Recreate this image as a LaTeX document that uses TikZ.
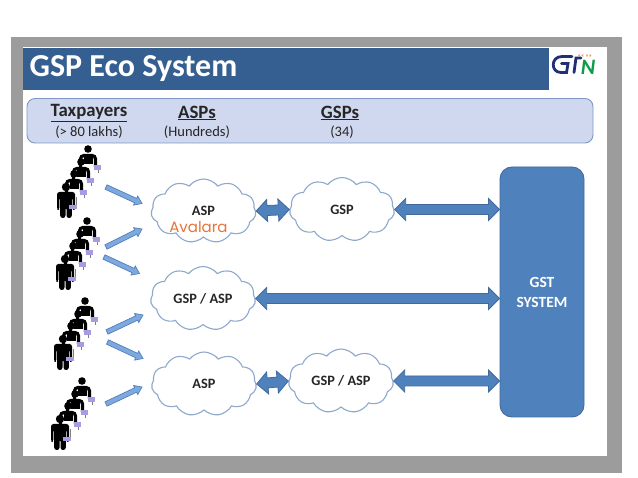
\documentclass[tikz,border=0pt]{standalone}
\usepackage{fontspec}
\setmainfont{Carlito}
\newfontfamily\logofont{Poppins}
\usetikzlibrary{shapes.symbols,calc}
\definecolor{framegray}{HTML}{9C9C9C}
\definecolor{titleblue}{HTML}{365F91}
\definecolor{bandfill}{HTML}{CFD8EE}
\definecolor{bandedge}{HTML}{7F98C6}
\definecolor{boxblue}{HTML}{4F81BD}
\definecolor{boxedge}{HTML}{41699C}
\definecolor{lightarrow}{HTML}{7FA8DE}
\definecolor{lightedge}{HTML}{4F81BD}
\definecolor{cloudedge}{HTML}{8FA9CC}
\definecolor{textdark}{HTML}{262626}
\definecolor{caselav}{HTML}{A99BE0}
\definecolor{avaorange}{HTML}{E8743B}
\definecolor{logonavy}{HTML}{1F2F78}
\definecolor{logogreen}{HTML}{0E9A48}
\tikzset{
  gspcloud/.style={cloud, cloud puffs=11, cloud puff arc=105, cloud ignores aspect,
    draw=cloudedge, line width=1.1pt, fill=white, inner sep=0pt,
    minimum width=105pt, minimum height=64pt, text=textdark,
    font=\bfseries\fontsize{14.3}{16}\selectfont},
  headtext/.style={text=textdark, font=\bfseries\fontsize{18.8}{20}\selectfont, inner sep=0pt},
  subtext/.style={text=textdark, font=\fontsize{14.5}{16}\selectfont, inner sep=0pt},
  fatarrow/.style={draw=boxedge, fill=boxblue, line width=0.8pt, line join=miter},
  thinarrow/.style={draw=lightedge, fill=lightarrow, line width=0.7pt},
}
% double block arrow from #1 to #2: head length 11, half head 11, half shaft 5
\newcommand\dblarrow[2]{%
  \draw[fatarrow] (#1)
   -- ($($(#1)!11pt!(#2)$)!11pt!90:(#2)$)
   -- ($($(#1)!11pt!(#2)$)!5pt!90:(#2)$)
   -- ($($(#2)!11pt!(#1)$)!5pt!-90:(#1)$)
   -- ($($(#2)!11pt!(#1)$)!11pt!-90:(#1)$)
   -- (#2)
   -- ($($(#2)!11pt!(#1)$)!11pt!90:(#1)$)
   -- ($($(#2)!11pt!(#1)$)!5pt!90:(#1)$)
   -- ($($(#1)!11pt!(#2)$)!5pt!-90:(#2)$)
   -- ($($(#1)!11pt!(#2)$)!11pt!-90:(#2)$)
   -- cycle;}
% single slim arrow from #1 to #2
\newcommand\slimarrow[2]{%
  \draw[thinarrow] ($(#1)!2.4pt!90:(#2)$)
   -- ($($(#2)!7pt!(#1)$)!2.4pt!-90:(#1)$)
   -- ($($(#2)!7pt!(#1)$)!5pt!-90:(#1)$)
   -- (#2)
   -- ($($(#2)!7pt!(#1)$)!5pt!90:(#1)$)
   -- ($($(#2)!7pt!(#1)$)!2.4pt!90:(#1)$)
   -- ($(#1)!2.4pt!-90:(#2)$)
   -- cycle;}
% a person seen from behind the next one
\newcommand\backperson[2]{%
  \begin{scope}[shift={(#1,#2)}]
    \draw[gray, line width=0.4pt] (10,16) -- (10,24);
    \fill[black] (0,0) circle (3.8);
    \draw[black, line width=3.2pt, rounded corners=3.5pt] (-7.5,18) -- (-7.5,6.5) -- (7.5,6.5) -- (7.5,18);
    \fill[black] (-4.5,6) rectangle (4.5,15);
    \fill[caselav] (6,16.5) rectangle (12.5,21);
  \end{scope}}
\tikzset{
  crowd/.pic={
    \coordinate (-c) at (0,0);
    \backperson{22}{-38}
    \backperson{15}{-25}
    \backperson{8}{-13}
    \draw[gray, line width=0.4pt] (10,10) -- (10,19);
    \fill[black] (0,0) circle (4.2);
    \fill[black, rounded corners=2.5pt] (-9,23) -- (-9,5) -- (9,5) -- (9,23) -- (6.6,23) -- (6.6,10) -- (5.8,10) -- (5.8,31) -- (0.5,31) -- (0.5,20) -- (-0.5,20) -- (-0.5,31) -- (-5.8,31) -- (-5.8,10) -- (-6.6,10) -- (-6.6,23) -- cycle;
    \fill[caselav] (3,18) rectangle (11,22.5);
  }
}
\begin{document}
\begin{tikzpicture}[x=1pt,y=-1pt]
\useasboundingbox (0,0) rectangle (638,478);
\fill[white] (0,0) rectangle (638,478);
% frame and slide
\fill[framegray] (11,37) rectangle (622,473);
\fill[white] (23,47.5) rectangle (607,456);
\fill[titleblue] (23,48) rectangle (549,90);
\node[anchor=west, inner sep=0pt, text=white, font=\bfseries\fontsize{32}{34}\selectfont] (title) at (29.5,68.5) {GSP Eco System};
% logo
\draw[logonavy, line width=2.8pt, line cap=round] (572,56.5) -- (562,56.5) .. controls (550.5,56.5) and (550.5,72.5) .. (561,72.5) -- (566.5,72.5) -- (568,63.5) -- (561.5,63.5);
\draw[logonavy, line width=2.8pt, line cap=round] (581,58) -- (576,58) -- (574,72.5);
\node[inner sep=0pt, text=logogreen, font=\bfseries\itshape\fontsize{22}{22}\selectfont] (logon) at (588,67) {N};
\node[inner sep=0pt, text=avaorange, font=\bfseries\fontsize{6}{6}\selectfont] (logoq) at (585,56) {«« »»};
% header band
\draw[draw=bandedge, fill=bandfill, line width=0.9pt, rounded corners=8pt] (27,98.5) rectangle (593,143);
\node[headtext] (tx) at (89,113) {\underline{Taxpayers}};
\node[subtext] (txs) at (89,132) {(> 80 lakhs)};
\node[headtext] (as) at (197,113) {\underline{ASPs}};
\node[subtext] (ass) at (197,132) {(Hundreds)};
\node[headtext] (gs) at (340,113) {\underline{GSPs}};
\node[subtext] (gss) at (342,132) {(34)};
% people
\pic (g1) at (66,187) {crowd};
\pic (g2) at (65,259) {crowd};
\pic (g3) at (63,339) {crowd};
\pic (g4) at (60,419) {crowd};
% clouds and system box
\node[gspcloud] (asp1) at (203.5,211) {ASP};
\node[gspcloud] (gsp1) at (342,209.5) {GSP};
\node[gspcloud] (both2) at (203,298.5) {GSP / ASP};
\node[gspcloud] (asp3) at (204,384) {ASP};
\node[gspcloud] (both3) at (341,381) {GSP / ASP};
\node[inner sep=0pt, text=avaorange, font=\logofont\fontsize{15}{15}\selectfont] (ava) at (198.5,227) {Avalara};
\node[draw=boxedge, fill=boxblue, line width=0.9pt, rounded corners=12pt, minimum width=84pt, minimum height=250pt, align=center, text=white, font=\bfseries\fontsize{15.5}{20}\selectfont] (gst) at (542,292) {GST\\SYSTEM};
% block arrows
\dblarrow{asp1.east}{gsp1.west}
\coordinate (g1e) at (gsp1.east -| gst.west);
\dblarrow{gsp1.east}{g1e}
\coordinate (g2e) at (both2.east -| gst.west);
\dblarrow{both2.east}{g2e}
\dblarrow{asp3.east}{both3.west}
\coordinate (g3e) at (both3.east -| gst.west);
\dblarrow{both3.east}{g3e}
% slim arrows
\coordinate (s1) at (106,187); \coordinate (t1) at (142,203.5);
\coordinate (s2) at (106,247); \coordinate (t2) at (142,229);
\coordinate (s3) at (104,257); \coordinate (t3) at (139.5,273.5);
\coordinate (s4) at (107,332); \coordinate (t4) at (143,315);
\coordinate (s5) at (107.5,342); \coordinate (t5) at (143,358.5);
\coordinate (s6) at (106,404); \coordinate (t6) at (142,387);
\slimarrow{s1}{t1}
\slimarrow{s2}{t2}
\slimarrow{s3}{t3}
\slimarrow{s4}{t4}
\slimarrow{s5}{t5}
\slimarrow{s6}{t6}
\end{tikzpicture}
\end{document}
